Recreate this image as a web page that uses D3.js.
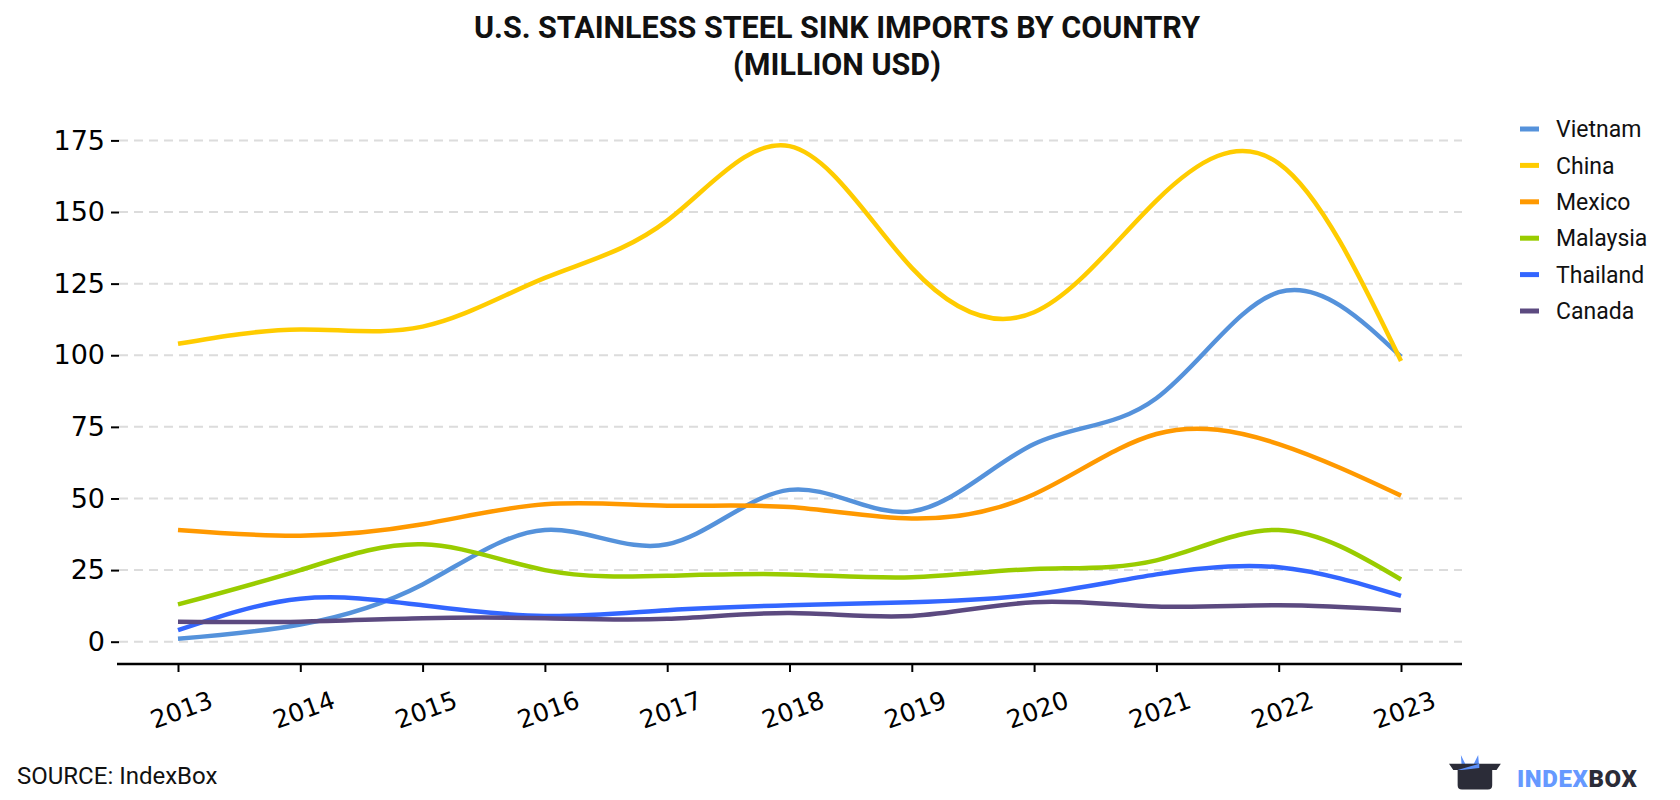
<!DOCTYPE html>
<html lang="en">
<head>
    <meta charset="UTF-8">
    <script src="https://d3js.org/d3.v7.min.js"></script>
    <title>U.S. Stainless Steel Sink Imports by Country</title>
    <style>
        body { margin: 0; background: #fff; }
        svg { display: block; }
    </style>
</head>
<body>
    <div id="chart"></div>
    <script>
        // years on the x axis
        const years = [2013, 2014, 2015, 2016, 2017, 2018, 2019, 2020, 2021, 2022, 2023];

        // series values, million USD
        const vietnam  = [1, 6, 20, 39, 34, 53, 45.5, 69, 85, 122, 99.5];
        const china    = [104, 109, 110, 127, 147, 173, 130.5, 115, 154, 167, 98];
        const mexico   = [39, 37, 41, 48, 47.5, 47, 43, 51.5, 72.5, 69, 51];
        const malaysia = [13, 25, 34, 25, 23, 23.5, 22.5, 25.4, 28.4, 39, 21.7];
        const thailand = [4, 15, 12.7, 9, 11, 12.7, 13.8, 16.5, 23.5, 26, 16];
        const canada   = [7, 7, 8.2, 8.2, 8, 10, 9, 13.8, 12.3, 12.7, 11];

        const seriesNames = ["Vietnam", "China", "Mexico", "Malaysia", "Thailand", "Canada"];
        const seriesValues = [vietnam, china, mexico, malaysia, thailand, canada];
        const seriesColors = ["#5592db", "#ffcc00", "#ff9900", "#99cc00", "#3366ff", "#5c4a80"];

        const yTicks = [0, 25, 50, 75, 100, 125, 150, 175];

        const width = 1680, height = 800;

        const svg = d3.select("#chart").append("svg")
            .attr("width", width)
            .attr("height", height);

        // title
        const title = svg.append("text")
            .attr("text-anchor", "middle")
            .style("font-family", "Roboto")
            .style("font-weight", "bold")
            .style("font-size", "30.5px")
            .style("fill", "#111");
        title.append("tspan").attr("x", 837).attr("y", 38).text("U.S. STAINLESS STEEL SINK IMPORTS BY COUNTRY");
        title.append("tspan").attr("x", 837).attr("y", 75).text("(MILLION USD)");

        // scales
        const x = d3.scalePoint()
            .domain(years)
            .range([178, 1401]);

        const y = d3.scaleLinear()
            .domain([0, 175])
            .range([641.7, 140.4]);

        // gridlines
        svg.append("g")
            .selectAll("line")
            .data(yTicks)
            .enter()
            .append("line")
            .attr("x1", 119)
            .attr("x2", 1462)
            .attr("y1", d => y(d))
            .attr("y2", d => y(d))
            .attr("stroke", "#dcdcdc")
            .attr("stroke-width", 2)
            .attr("stroke-dasharray", "9,6");

        // y axis: ticks and labels only
        const yAxis = svg.append("g")
            .attr("transform", "translate(119,0)")
            .call(d3.axisLeft(y).tickValues(yTicks).tickSize(8).tickPadding(6));
        yAxis.select(".domain").remove();
        yAxis.selectAll(".tick line").attr("stroke", "#000").attr("stroke-width", 2);
        yAxis.selectAll(".tick text")
            .style("font-family", "DejaVu Sans")
            .style("font-size", "27px")
            .attr("fill", "#000");

        // x axis
        const xAxis = svg.append("g")
            .attr("transform", "translate(0,664)")
            .call(d3.axisBottom(x).tickSize(8).tickSizeOuter(0).tickPadding(0));
        xAxis.select(".domain")
            .attr("d", "M117,0H1462")
            .attr("stroke", "#000")
            .attr("stroke-width", 2.5);
        xAxis.selectAll(".tick line").attr("stroke", "#000").attr("stroke-width", 2);
        xAxis.selectAll(".tick text")
            .attr("y", 0)
            .attr("dy", 0)
            .attr("text-anchor", "middle")
            .attr("transform", "translate(6,54) rotate(-20)")
            .style("font-family", "DejaVu Sans")
            .style("font-size", "25px")
            .attr("fill", "#000");

        // lines
        const line = d3.line()
            .x((d, i) => x(years[i]))
            .y(d => y(d))
            .curve(d3.curveNatural);

        svg.append("g")
            .selectAll("path")
            .data(seriesValues)
            .enter()
            .append("path")
            .attr("d", d => line(d))
            .attr("fill", "none")
            .attr("stroke", (d, i) => seriesColors[i])
            .attr("stroke-width", 4.5)
            .attr("stroke-linecap", "butt");

        // legend
        const legend = svg.append("g")
            .selectAll("g")
            .data(seriesNames)
            .enter()
            .append("g")
            .attr("transform", (d, i) => `translate(1520,${129 + i * 36.4})`);

        legend.append("line")
            .attr("x1", 0)
            .attr("x2", 19)
            .attr("stroke", (d, i) => seriesColors[i])
            .attr("stroke-width", 5);

        legend.append("text")
            .attr("x", 36)
            .attr("dy", "0.36em")
            .style("font-family", "Roboto")
            .style("font-size", "23px")
            .style("fill", "#111")
            .text(d => d);

        // source
        svg.append("text")
            .attr("x", 17)
            .attr("y", 784)
            .style("font-family", "Roboto")
            .style("font-size", "24px")
            .style("fill", "#111")
            .text("SOURCE: IndexBox");

        // logo
        const logo = svg.append("g").attr("transform", "translate(1449,755) scale(1.08)");
        logo.append("path")
            .attr("d", "M11,0 L15,8 L23,8 L27,0 L28,12 L12,14 Z")
            .attr("fill", "#5b8ff9");
        logo.append("path")
            .attr("d", "M0,8 L48,8 L44,14 L40,14 L40,28 Q40,32 36,32 L12,32 Q8,32 8,28 L8,14 L4,14 Z")
            .attr("fill", "#2b2c38");
        logo.append("path")
            .attr("d", "M8,14 L12,14 L28,12 L28,8 Z")
            .attr("fill", "#5b8ff9");

        const brand = svg.append("text")
            .attr("x", 1517)
            .attr("y", 787)
            .style("font-family", "Roboto")
            .style("font-weight", "900")
            .style("font-size", "24px")
            .style("letter-spacing", "0.6px");
        brand.append("tspan").attr("fill", "#6699ff").text("INDEX");
        brand.append("tspan").attr("fill", "#2b2c38").text("BOX");
    </script>
</body>
</html>
